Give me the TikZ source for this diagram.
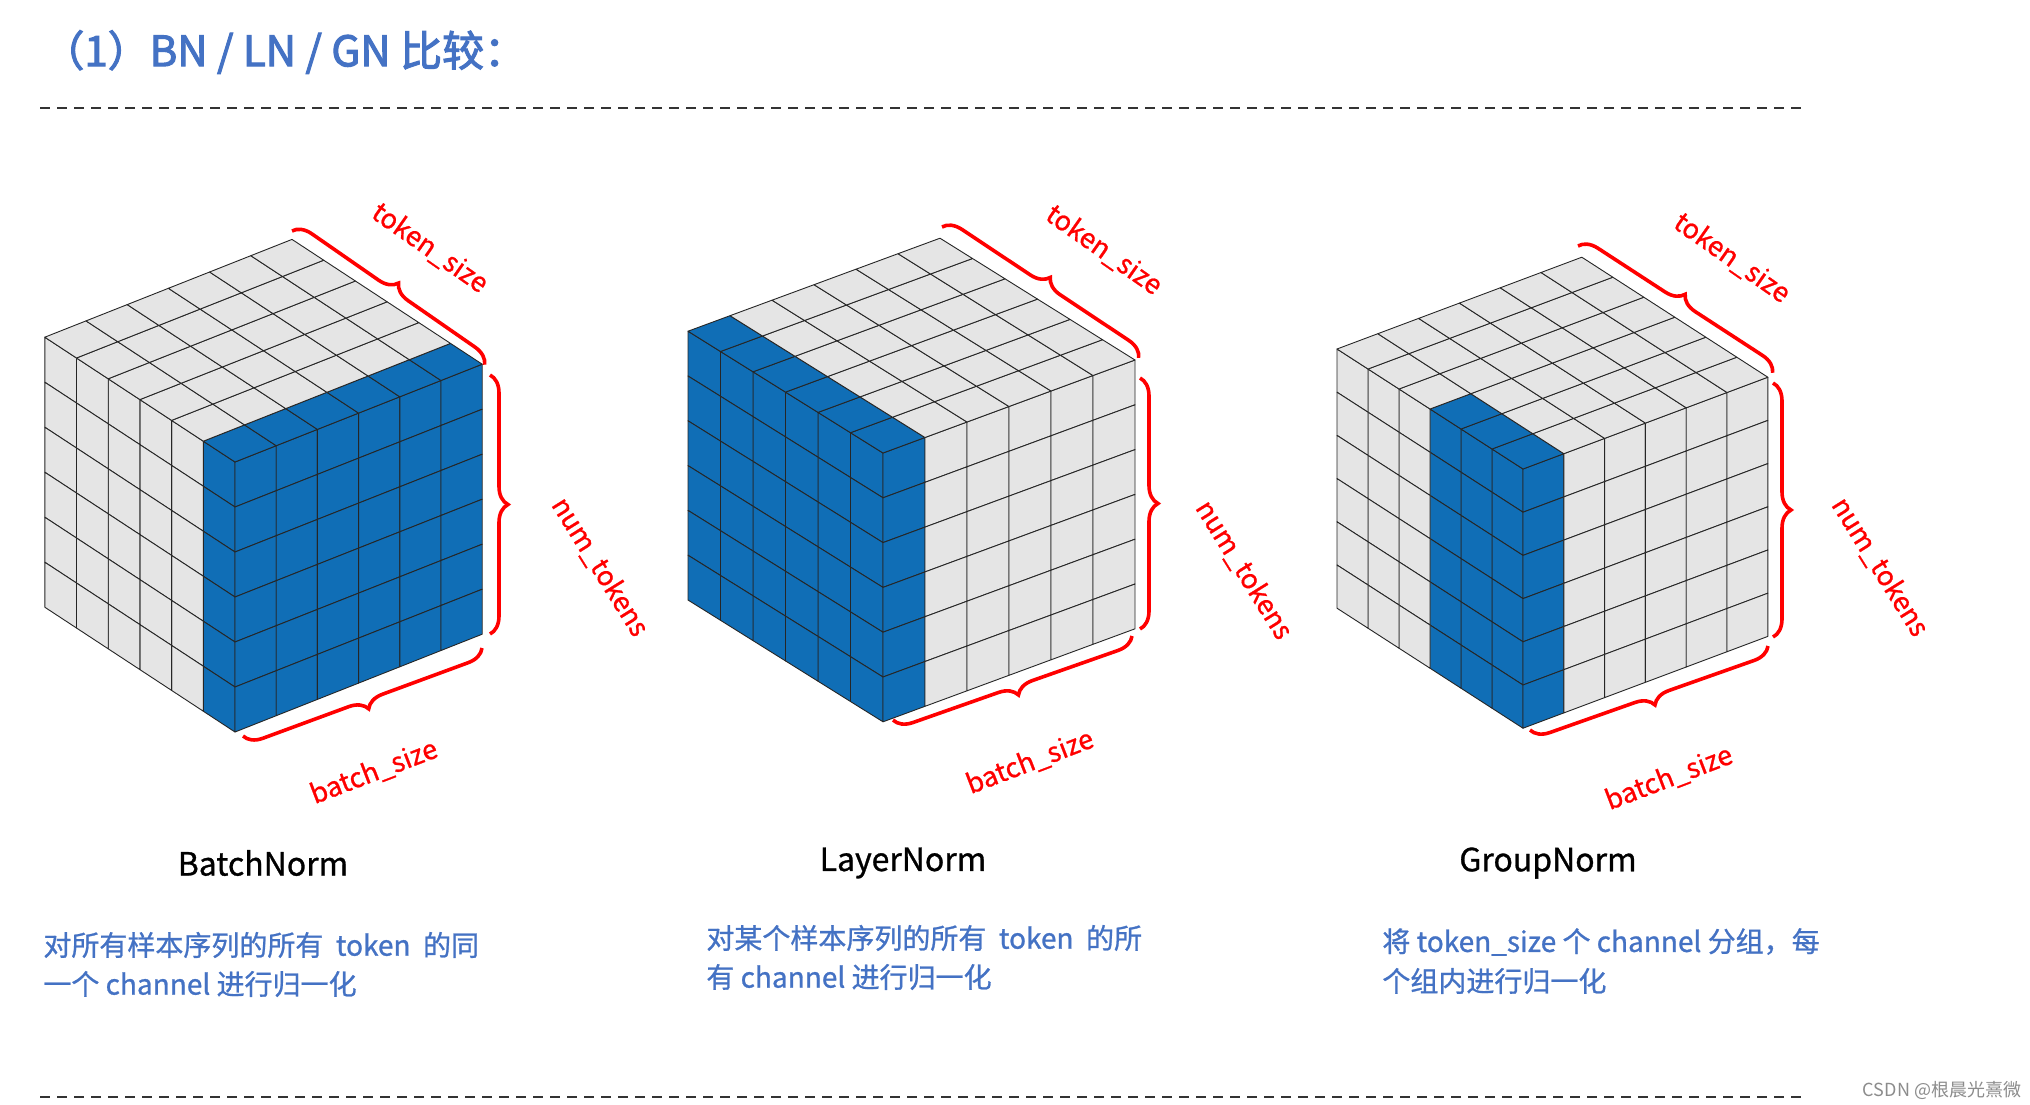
\documentclass[tikz,border=0pt]{standalone}
\usepackage{fontspec}
\setmainfont{Noto Sans CJK SC}[AutoFakeBold=2.5]
\newfontfamily\medfont{Noto Sans CJK SC}[FakeBold=0.9]
\usetikzlibrary{decorations.pathreplacing}
\definecolor{ttlblue}{HTML}{4472C4}
\definecolor{cubeblue}{HTML}{106EB6}
\definecolor{cubegrey}{HTML}{E5E5E5}
\definecolor{bred}{HTML}{FF0000}
\tikzset{
  cell/.style={draw=black!85,line width=0.45pt,line join=round},
  bracex/.style={draw=bred,line width=1.8pt,decorate,decoration={brace,amplitude=9pt,aspect=0.5}},
  blab/.style={text=bred,font=\medfont\fontsize{13.5}{15}\selectfont},
  cname/.style={font=\medfont\fontsize{16}{19}\selectfont},
  desc/.style={text=ttlblue,font=\medfont\fontsize{14}{17}\selectfont,anchor=west,inner sep=0},
  dline/.style={dash pattern=on 5pt off 3.5pt,line width=0.9pt,black!80}
}
% #1 Fx #2 Fy #3 ux #4 uy #5 vx #6 vy #7 h
\newcommand\drawcube[7]{%
 \foreach \i in {0,...,5}{\foreach \k in {0,...,5}{%
   \pgfmathparse{\leftc}\ifdim\pgfmathresult pt>0.5pt\def\fc{cubeblue}\else\def\fc{cubegrey}\fi
   \filldraw[cell,fill=\fc] ({#1+\i*(#5)},{#2+\i*(#6)+\k*(#7)}) -- ({#1+(\i+1)*(#5)},{#2+(\i+1)*(#6)+\k*(#7)}) -- ({#1+(\i+1)*(#5)},{#2+(\i+1)*(#6)+(\k+1)*(#7)}) -- ({#1+\i*(#5)},{#2+\i*(#6)+(\k+1)*(#7)}) -- cycle;}}
 \foreach \j in {0,...,5}{\foreach \k in {0,...,5}{%
   \pgfmathparse{\rightc}\ifdim\pgfmathresult pt>0.5pt\def\fc{cubeblue}\else\def\fc{cubegrey}\fi
   \filldraw[cell,fill=\fc] ({#1+\j*(#3)},{#2+\j*(#4)+\k*(#7)}) -- ({#1+(\j+1)*(#3)},{#2+(\j+1)*(#4)+\k*(#7)}) -- ({#1+(\j+1)*(#3)},{#2+(\j+1)*(#4)+(\k+1)*(#7)}) -- ({#1+\j*(#3)},{#2+\j*(#4)+(\k+1)*(#7)}) -- cycle;}}
 \foreach \i in {0,...,5}{\foreach \j in {0,...,5}{%
   \pgfmathparse{\topc}\ifdim\pgfmathresult pt>0.5pt\def\fc{cubeblue}\else\def\fc{cubegrey}\fi
   \filldraw[cell,fill=\fc] ({#1+\j*(#3)+\i*(#5)},{#2+\j*(#4)+\i*(#6)}) -- ({#1+(\j+1)*(#3)+\i*(#5)},{#2+(\j+1)*(#4)+\i*(#6)}) -- ({#1+(\j+1)*(#3)+(\i+1)*(#5)},{#2+(\j+1)*(#4)+(\i+1)*(#6)}) -- ({#1+\j*(#3)+(\i+1)*(#5)},{#2+\j*(#4)+(\i+1)*(#6)}) -- cycle;}}
}
\begin{document}
\begin{tikzpicture}[x=0.5pt,y=-0.5pt]
\useasboundingbox[fill=white] (0,0) rectangle (2030,1104);
\node[anchor=west,text=ttlblue,font=\fontsize{21}{25}\selectfont\bfseries,inner sep=0] (title) at (42,52) {（1）BN / LN / GN 比较：};
\coordinate (r1a) at (40,108); \coordinate (r1b) at (1806,108);
\coordinate (r2a) at (40,1097); \coordinate (r2b) at (1806,1097);
\draw[dline] (r1a) -- (r1b);
\draw[dline] (r2a) -- (r2b);
% cube 1 BatchNorm
\def\leftc{\i==0}\def\rightc{1}\def\topc{\i==0}
\drawcube{235}{462}{41.2}{-16.3}{-31.7}{-20.8}{45}
\coordinate (t1a) at (292,231); \coordinate (t1b) at (485,365);
\coordinate (n1a) at (490,375); \coordinate (n1b) at (490,634);
\coordinate (b1a) at (482,648); \coordinate (b1b) at (243,736);
\draw[bracex] (t1a) -- (t1b);
\draw[bracex] (n1a) -- (n1b);
\draw[bracex] (b1a) -- (b1b);
\node[blab,rotate=-35] (lt1) at (430,248) {token\_size};
\node[blab,rotate=-58] (ln1) at (600,567) {num\_tokens};
\node[blab,rotate=21] (lb1) at (374,772) {batch\_size};
% cube 2 LayerNorm
\def\leftc{1}\def\rightc{\j==0}\def\topc{\j==0}
\drawcube{883}{453}{42}{-15.5}{-32.5}{-20.3}{44.8}
\coordinate (t2a) at (942,227); \coordinate (t2b) at (1139,358);
\coordinate (n2a) at (1140,378); \coordinate (n2b) at (1140,629);
\coordinate (b2a) at (1132,636); \coordinate (b2b) at (893,720);
\draw[bracex] (t2a) -- (t2b);
\draw[bracex] (n2a) -- (n2b);
\draw[bracex] (b2a) -- (b2b);
\node[blab,rotate=-35] (lt2) at (1104,250) {token\_size};
\node[blab,rotate=-58] (ln2) at (1244,570) {num\_tokens};
\node[blab,rotate=21] (lb2) at (1030,762) {batch\_size};
% cube 3 GroupNorm
\def\leftc{\i<=2}\def\rightc{\j==0}\def\topc{and(\j==0,\i<=2)}
\drawcube{1523}{469}{40.8}{-15.3}{-31}{-20}{43.2}
\coordinate (t3a) at (1578,246); \coordinate (t3b) at (1773,373);
\coordinate (n3a) at (1773,383); \coordinate (n3b) at (1773,637);
\coordinate (b3a) at (1768,646); \coordinate (b3b) at (1530,730);
\draw[bracex] (t3a) -- (t3b);
\draw[bracex] (n3a) -- (n3b);
\draw[bracex] (b3a) -- (b3b);
\node[blab,rotate=-35] (lt3) at (1732,258) {token\_size};
\node[blab,rotate=-58] (ln3) at (1880,567) {num\_tokens};
\node[blab,rotate=21] (lb3) at (1669,778) {batch\_size};
% names
\node[cname] (nm1) at (263,863) {BatchNorm};
\node[cname] (nm2) at (903,863) {LayerNorm};
\node[cname] (nm3) at (1548,863) {GroupNorm};
% descriptions
\node[desc] (d1a) at (43,945) {对所有样本序列的所有\ \ token\ \ 的同};
\node[desc] (d1b) at (43,984) {一个 channel 进行归一化};
\node[desc] (d2a) at (706,938) {对某个样本序列的所有\ \ token\ \ 的所};
\node[desc] (d2b) at (706,977) {有 channel 进行归一化};
\node[desc] (d3a) at (1382,942) {将 token\_size 个 channel 分组，每};
\node[desc] (d3b) at (1382,981) {个组内进行归一化};
\node[text=black!45,font=\fontsize{9}{11}\selectfont] (wm) at (1942,1090) {CSDN @根晨光熹微};
\end{tikzpicture}
\end{document}
